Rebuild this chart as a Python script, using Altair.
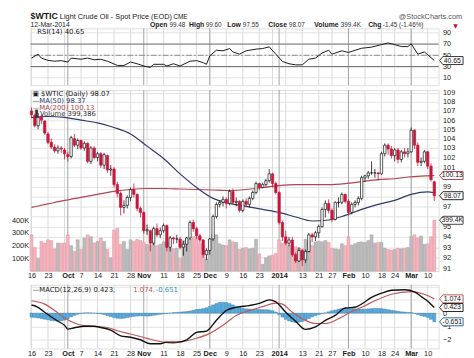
import json
import altair as alt
import pandas as pd

# ---------------- data ----------------
tick_idx = [0, 5, 11, 15, 20, 25, 30, 34, 40, 45, 50, 54, 59, 64, 69, 75, 82, 87, 91, 96, 101, 106, 110, 115, 120]
tick_lab = ["16", "23", "Oct", "7", "14", "21", "28", "Nov", "11", "18", "25", "Dec", "9", "16", "23",
            "2014", "13", "21", "27", "Feb", "10", "18", "24", "Mar", "10"]
week_idx = [0, 5, 10, 15, 20, 25, 30, 35, 40, 45, 50, 54, 59, 64, 69, 73, 77, 82, 87, 91, 96, 101, 106, 110, 115, 120]
month_idx = [11, 34, 54, 75, 96, 115]

opens = [107.0, 106.5, 105.4, 106.4, 105.9, 104.5, 103.6, 103.1, 102.7, 103.0, 102.8,
         102.3, 102.1, 104.0, 103.3, 103.8, 103.0, 103.5, 101.6, 103.0, 102.0, 102.4, 101.2, 102.2, 100.7,
         100.8, 99.2, 98.3, 96.9, 97.1, 97.9, 98.7, 98.2, 96.8, 96.4,
         94.6, 94.6, 93.4, 94.8, 94.2, 94.6, 95.1, 93.0, 93.9, 93.8, 93.8, 93.0, 93.3, 93.9, 95.4,
         94.8, 94.1, 93.7, 92.3, 92.7, 93.8, 96.0, 97.2, 97.4, 97.7, 97.3, 98.5, 97.4, 97.5,
         96.6, 97.5, 97.2, 97.8, 98.4, 99.3, 98.9, 99.2, 99.6, 100.3, 99.3, 98.4, 95.4,
         94.0, 93.4, 93.7, 92.3, 91.7, 92.7, 91.8, 92.6, 94.2, 94.0, 94.4, 95.0, 96.7, 97.3,
         96.6, 95.7, 97.4, 97.4, 98.2, 97.5, 96.4, 97.2, 97.4, 97.8, 99.9, 100.1, 100.4, 100.4, 100.4,
         100.3, 102.4, 103.3, 102.9, 102.2, 102.8, 101.8, 102.6, 102.4, 102.6, 104.9, 103.3, 101.5, 101.6,
         102.6, 101.1, 99.48]
highs = [107.4, 106.7, 106.8, 106.6, 106.0, 104.7, 104.0, 103.4, 103.3, 103.2, 103.0,
         102.6, 104.3, 104.5, 104.0, 103.9, 103.7, 103.6, 103.2, 103.2, 102.6, 102.6, 102.5, 102.3, 101.2,
         101.0, 99.5, 98.5, 97.6, 98.1, 98.9, 99.3, 98.3, 97.0, 96.5,
         95.2, 94.7, 95.0, 95.3, 94.9, 95.3, 95.2, 94.1, 94.0, 94.2, 94.0, 93.6, 94.0, 95.6, 95.7,
         95.0, 94.3, 93.8, 92.9, 93.9, 96.2, 97.4, 97.6, 98.0, 97.9, 98.7, 98.8, 97.9, 97.6,
         97.7, 97.8, 98.0, 98.6, 99.5, 99.4, 99.4, 99.8, 100.8, 100.4, 99.5, 98.5, 95.6,
         94.6, 94.0, 94.0, 92.5, 93.0, 92.8, 92.8, 94.4, 94.4, 94.6, 95.2, 96.9, 97.6, 97.7,
         96.8, 97.5, 97.9, 98.4, 98.3, 97.7, 97.4, 97.6, 98.0, 100.1, 100.2, 100.6, 101.6, 100.8, 100.5,
         102.6, 103.5, 103.5, 103.2, 103.0, 103.0, 102.8, 103.0, 103.0, 105.2, 105.0, 103.6, 102.0, 102.8,
         102.7, 101.4, 99.60]
lows = [106.2, 105.2, 105.0, 105.6, 104.4, 103.4, 102.9, 102.5, 102.4, 102.5, 101.8,
        101.6, 101.9, 103.1, 102.9, 102.8, 102.7, 101.4, 101.3, 101.8, 101.6, 100.9, 100.8, 100.4, 100.1,
        98.9, 97.9, 96.1, 96.3, 96.8, 97.5, 97.9, 96.5, 95.9, 94.3,
        94.2, 92.6, 93.2, 94.0, 93.9, 94.4, 92.6, 92.6, 93.3, 93.4, 92.8, 92.2, 92.6, 93.7, 94.5,
        93.8, 93.4, 92.0, 91.8, 92.3, 93.6, 95.8, 96.9, 97.0, 96.8, 97.1, 97.2, 97.0, 96.4,
        96.4, 96.9, 96.9, 97.6, 98.2, 98.6, 98.8, 99.0, 99.4, 98.9, 98.2, 95.2, 93.6,
        93.2, 93.1, 92.1, 91.5, 91.6, 91.2, 91.5, 92.5, 93.5, 93.6, 93.9, 94.9, 95.9, 96.3,
        95.4, 95.6, 96.9, 97.2, 97.3, 96.1, 96.2, 96.9, 97.1, 97.6, 99.5, 99.8, 100.2, 99.9, 99.6,
        100.2, 102.1, 102.3, 101.9, 101.6, 101.4, 101.5, 102.0, 102.0, 102.5, 102.9, 101.1, 101.1, 101.4,
        100.8, 99.5, 97.55]
closes = [106.6, 105.4, 106.3, 106.0, 104.6, 103.6, 103.1, 102.7, 103.0, 102.9, 102.4,
          102.1, 104.1, 103.3, 103.8, 103.0, 103.5, 101.6, 103.0, 102.0, 102.4, 101.2, 102.3, 100.7, 100.8,
          99.2, 98.3, 96.9, 97.1, 97.9, 98.7, 98.2, 96.8, 96.4, 94.6,
          94.7, 93.4, 94.8, 94.2, 94.6, 95.1, 93.0, 93.9, 93.8, 93.8, 93.0, 93.3, 93.9, 95.4, 94.8,
          94.1, 93.7, 92.3, 92.7, 93.8, 96.0, 97.2, 97.4, 97.7, 97.3, 98.5, 97.4, 97.5, 96.6,
          97.5, 97.2, 97.8, 98.4, 99.3, 98.9, 99.2, 99.6, 100.3, 99.3, 98.4, 95.4, 94.0,
          93.4, 93.7, 92.3, 91.7, 92.7, 91.8, 92.6, 94.2, 94.0, 94.4, 95.0, 96.7, 97.3, 96.6,
          95.7, 97.4, 97.4, 98.2, 97.5, 96.4, 97.2, 97.4, 97.8, 99.9, 100.1, 100.4, 100.4, 100.4, 100.3,
          102.4, 103.3, 102.9, 102.2, 102.8, 101.8, 102.6, 102.4, 102.6, 104.9, 103.3, 101.5, 101.6, 102.6,
          101.1, 99.7, 98.07]
vol_k = [285, 185, 100, 233, 220, 246, 240, 175, 220, 220, 220, 285,
         200, 156, 246, 170, 260, 285, 270, 220, 233, 260, 233, 170, 105, 323, 336, 210, 233, 170, 246, 233,
         250, 240, 225, 210, 205, 215, 200, 210, 230, 225, 180, 175, 178, 100, 240, 245, 250, 270, 265, 215, 200, 95,
         250, 290, 285, 215, 205, 200, 246,
         230, 225, 170, 180, 185, 175, 180, 250, 135, 54, 105, 120, 125, 140, 246, 220,
         225, 200, 210, 190, 180, 175, 250, 240, 200, 230, 235, 230, 240, 225,
         180, 175, 170, 215, 200, 270, 205, 215, 225, 230, 225, 240, 285, 220, 225,
         225, 180, 170, 165, 170, 180, 175, 180, 185, 270, 285, 260, 275, 210, 215, 270, 399.4]
hist = [-0.30, -0.32, -0.36, -0.40, -0.45,
        -0.50, -0.55, -0.58, -0.60, -0.58, -0.52,
        -0.40, -0.28, -0.16, -0.08, -0.02, 0.02,
        0.03, 0.02, 0.0, -0.02, -0.05, -0.10,
        -0.18, -0.26, -0.33, -0.38, -0.40, -0.38, -0.33, -0.28,
        -0.24, -0.22, -0.20, -0.20, -0.22, -0.20, -0.16, -0.12, -0.08, -0.05,
        -0.02, 0.01, 0.04, 0.06, 0.08, 0.10, 0.12, 0.16,
        0.22, 0.28, 0.30, 0.34, 0.40, 0.50, 0.62,
        0.72, 0.80, 0.82, 0.80, 0.72, 0.62, 0.52,
        0.42, 0.36, 0.32, 0.30, 0.29, 0.28, 0.27, 0.26, 0.26, 0.24,
        0.18, 0.08, -0.10, -0.30,
        -0.46, -0.58, -0.66, -0.70, -0.68, -0.62, -0.52,
        -0.40, -0.28, -0.18, -0.10, -0.04, 0.02, 0.10,
        0.18, 0.24, 0.30, 0.34, 0.36, 0.36, 0.34, 0.32, 0.30, 0.30,
        0.30, 0.32, 0.34, 0.36, 0.36, 0.34, 0.30, 0.26, 0.22, 0.18,
        0.14, 0.10, 0.08, 0.06, 0.04, -0.02,
        -0.10, -0.18, -0.24, -0.32, -0.46, -0.651]

ma_idx = [0, 5, 10, 15, 20, 25, 30, 35, 40, 45, 50, 55, 60, 65, 70, 75, 80, 85, 90, 95, 100, 105, 110, 115, 120, 122]
ma50 = [106.3, 106.4, 106.3, 106.0, 105.7, 105.2, 104.5, 103.2, 101.9, 100.3, 98.9, 97.8, 97.3, 97.0, 96.7,
        96.4, 95.95, 95.55, 95.65, 96.1, 96.7, 97.2, 97.6, 98.2, 98.45, 98.37]
ma200 = [96.9, 97.25, 97.6, 97.9, 98.2, 98.5, 98.7, 98.8, 98.8, 98.75, 98.7, 98.65, 98.6, 98.7, 98.9,
         99.1, 99.2, 99.2, 99.2, 99.3, 99.5, 99.7, 99.8, 100.0, 100.1, 100.13]

rsi_idx = [0, 2, 3, 5, 7, 9, 11, 12, 15, 17, 19, 21, 23, 26, 28, 30, 32, 34, 36, 37, 40, 41, 43, 45, 48, 50,
           52, 53, 54, 56, 58, 60, 61, 63, 65, 68, 70, 72, 74, 76, 78, 80, 82, 84, 86, 88, 90, 91, 94, 96,
           98, 100, 103, 106, 108, 110, 112, 114, 115, 117, 119, 121, 122]
rsi = [45, 52, 45, 41, 39.5, 40.5, 38, 45, 43, 45, 42, 43, 39.5, 32, 32, 38, 35, 31, 28.5, 34, 34, 31, 35, 31,
       39.5, 40.5, 37, 34, 49, 59, 58, 62, 56, 52, 58, 61, 62, 65, 52, 39, 35, 33, 33, 43, 45, 54, 59, 52, 58,
       55, 59, 62.5, 64.5, 69, 72, 69, 65.5, 65.5, 70.5, 52, 56, 46, 40.65]
rsi_bands = [70, 30]
rsi_mid = [50]

macd_idx = [0, 2, 4, 6, 8, 10, 11, 13, 16, 19, 21, 24, 27, 30, 33, 36, 39, 41, 44, 47, 50, 53, 56, 59, 62,
            66, 69, 72, 74, 77, 80, 83, 86, 89, 92, 95, 98, 100, 103, 106, 109, 113, 116, 118, 120, 122]
macd = [0.61, 0.44, 0.07, -0.29, -0.61, -0.91, -1.2, -1.1, -0.98, -0.98, -1.08, -1.27, -1.71, -1.81, -2.0,
        -2.3, -2.3, -2.18, -2.18, -2.0, -1.45, -1.35, -0.54, 0.2, 0.44, 0.57, 0.73, 1.0, 0.85, 0.07, -0.61,
        -1.22, -1.03, -0.54, -0.17, 0.39, 0.44, 0.69, 1.18, 1.5, 1.72, 1.76, 1.6, 1.25, 0.9, 0.423]
sig_idx = [0, 4, 7, 10, 14, 18, 23, 26, 30, 35, 40, 43, 46, 50, 54, 58, 62, 66, 70, 74, 76, 79, 83, 86, 89,
           93, 97, 100, 104, 109, 115, 119, 122]
signal = [0.93, 0.68, 0.2, -0.37, -0.83, -0.98, -1.08, -1.32, -1.57, -1.89, -2.18, -2.25, -2.13, -1.89, -1.52,
          -0.91, -0.17, 0.2, 0.49, 0.76, 0.68, 0.07, -0.54, -0.78, -0.78, -0.42, 0.12, 0.44, 0.93, 1.42, 1.62,
          1.42, 1.074]

last_close, last_ma50, last_ma200, last_vol = 98.07, 98.37, 100.13, 399.4
last_rsi, last_macd, last_signal, last_hist = 40.65, 0.423, 1.074, -0.651
price_ticks = list(range(91, 110))
price_hidden = [96, 98, 100]      # covered by the value tags in the reference

# ---------------- layout constants ----------------
FONT = "DejaVu Sans"
AFONT = "Liberation Sans"
HFONT = "Liberation Sans"
W = 417
H_RSI, H_PX, H_MACD = 58, 185, 65
RED = "#c8163a"
GRID = "#e2e2e2"

df = pd.DataFrame({"i": list(range(len(closes))), "open": opens, "high": highs, "low": lows,
                   "close": closes, "vol": vol_k, "hist": hist})
one = pd.DataFrame({"k": [0]})

xscale = alt.Scale(domain=[-0.3, 123.3], nice=False, zero=False, padding=0)
label_expr = "%s[indexof(%s, datum.value)]" % (json.dumps(tick_lab), json.dumps(tick_idx))
month_test = "indexof(%s, datum.value) >= 0" % json.dumps(month_idx)
x_axis = alt.Axis(values=tick_idx, labelExpr=label_expr, grid=False, ticks=False, tickSize=0, domain=False,
                  labelFont=AFONT, labelFontSize=7.5, labelColor="#1a1a1a", labelPadding=1,
                  labelOverlap=False, labelFlush=False, labelBound=False, title=None,
                  labelFontWeight={"condition": {"test": month_test, "value": "bold"}, "value": "normal"})


def X(axis=None):
    return alt.X("i:Q", scale=xscale, axis=axis, title=None)


def yaxis(values, orient="right", expr=None, fmt=None):
    kw = dict(orient=orient, values=values, grid=(orient == "right"), gridColor=GRID, ticks=False,
              tickSize=0, domain=False, labelFont=AFONT, labelFontSize=7.5, labelColor="#1a1a1a",
              labelPadding=4 if orient == "right" else 2, title=None, labelOverlap=False)
    if expr:
        kw["labelExpr"] = expr
    if fmt:
        kw["format"] = fmt
    return alt.Axis(**kw)


def text(t, x, y, size=7, weight="normal", color="#1a1a1a", font=FONT, align="left", baseline="middle"):
    return alt.Chart(one).mark_text(text=t, font=font, fontSize=size, fontWeight=weight, color=color,
                                    align=align, baseline=baseline).encode(x=alt.value(x), y=alt.value(y))


TAG = "M-1,0L-0.72,-0.34L1,-0.34L1,0.34L-0.72,0.34Z"


def tag(value, t, color, yscale, axis):
    d = alt.Chart(pd.DataFrame({"v": [value], "t": [t]}))
    yy = alt.Y("v:Q", scale=yscale, axis=axis, title=None)
    box = d.mark_point(shape=TAG, size=576, filled=True, fill="white", stroke=color, strokeWidth=1,
                       opacity=1).encode(x=alt.value(W + 13), y=yy)
    lab = d.mark_text(font=AFONT, fontSize=7, color="#111", align="center", baseline="middle").encode(
        x=alt.value(W + 14), y=yy, text="t:N")
    return [box, lab]


def grids(axis=None):
    gw = alt.Chart(pd.DataFrame({"i": week_idx})).mark_rule(color="#dadada", strokeWidth=1).encode(x=X(axis))
    gm = alt.Chart(pd.DataFrame({"i": month_idx})).mark_rule(color="#a3a3a3", strokeWidth=1).encode(x=X(axis))
    return [gw, gm]


# ---------------- RSI panel ----------------
rsi_scale = alt.Scale(domain=[-3.1, 97.8], nice=False, zero=False, padding=0)
rsi_ax = yaxis([10, 30, 50, 70, 90])
rsi_df = pd.DataFrame({"i": rsi_idx, "rsi": rsi})
rsi_bands_l = alt.Chart(pd.DataFrame({"v": rsi_bands})).mark_rule(color="#6e6e6e", strokeWidth=1).encode(
    y=alt.Y("v:Q", scale=rsi_scale, axis=rsi_ax, title=None))
rsi_mid_l = alt.Chart(pd.DataFrame({"v": rsi_mid})).mark_rule(color="#8a8a8a", strokeWidth=1,
                                                              strokeDash=[6, 2, 2, 2]).encode(
    y=alt.Y("v:Q", scale=rsi_scale, axis=rsi_ax, title=None))
rsi_line = alt.Chart(rsi_df).mark_line(color="#1a1a1a", strokeWidth=1).encode(
    x=X(), y=alt.Y("rsi:Q", scale=rsi_scale, axis=rsi_ax, title=None))

# header: two lines above the RSI panel (baselines B1, B2 relative to the panel top)
B1, B2 = -9.5, -1.5


def htext(t, x, base, size, weight="normal", color="#1a1a1a", align="left"):
    off = round(0.79 * size)
    return text(t, x, base - off, size=size, weight=weight, color=color, font=HFONT, align=align,
                baseline="top")


header = [
    htext("$WTIC", 0, B1, 9, weight="bold"),
    htext("Light Crude Oil - Spot Price (EOD)", 30, B1, 7.5),
    htext("CME", 146, B1, 6.5),
    htext("@StockCharts.com", 441, B1, 7.5, color="#555", align="right"),
    htext("12-Mar-2014", 0, B2, 7),
]
for lab, val, xl, xv in [("Open", "99.48", 122, 142), ("High", "99.60", 162, 179), ("Low", "97.55", 201, 217),
                         ("Close", "98.07", 243, 264), ("Volume", "399.4K", 290, 317),
                         ("Chg", "-1.45 (-1.46%)", 345, 360)]:
    header.append(htext(lab, xl, B2, 7, weight="bold"))
    header.append(htext(val, xv, B2, 6.5, color="#333"))
header.append(text("\u25bc", 432, B2 - 4, size=6, color=RED, baseline="top"))

rsi_chart = alt.layer(
    *grids(), rsi_bands_l, rsi_mid_l, rsi_line,
    text("RSI(14) 40.65", 7, 3.5, size=7),
    *tag(last_rsi, "40.65", "#333", rsi_scale, rsi_ax),
    *header,
).properties(width=W, height=H_RSI)

# ---------------- price + volume panel (flat layer, independent y) ----------------
pscale = alt.Scale(type="log", domain=[90.75, 109.33], nice=False, zero=False, padding=0)
vscale = alt.Scale(domain=[0, 1423], nice=False, zero=False, padding=0)
down = "datum.close < datum.open"
base = alt.Chart(df)

vol_bars = base.mark_bar(size=3.0, strokeWidth=0.5).encode(
    x=X(x_axis),
    y=alt.Y("vol:Q", scale=vscale, title=None,
            axis=yaxis([100, 200, 300, 400], orient="left", expr="datum.value + 'K'")),
    fill=alt.condition(down, alt.value("#f3b4bd"), alt.value("#bcbcbc")),
    stroke=alt.condition(down, alt.value("#e290a0"), alt.value("#a0a0a0")),
)
ma_df = pd.DataFrame({"i": ma_idx, "ma50": ma50, "ma200": ma200})
hide_expr = "indexof(%s, datum.value) >= 0 ? '' : datum.label" % json.dumps(price_hidden)
ma200_l = alt.Chart(ma_df).mark_line(color="#b0464f", strokeWidth=1.2, interpolate="monotone").encode(
    x=X(x_axis), y=alt.Y("ma200:Q", scale=pscale, title=None,
                         axis=yaxis(price_ticks, fmt="d", expr=hide_expr)))
ma50_l = alt.Chart(ma_df).mark_line(color="#2d3a6a", strokeWidth=1.2, interpolate="monotone").encode(
    x=X(x_axis), y=alt.Y("ma50:Q", scale=pscale, axis=None))
wicks = base.mark_rule(strokeWidth=0.8).encode(
    x=X(x_axis), y=alt.Y("low:Q", scale=pscale, axis=None), y2="high:Q",
    color=alt.condition(down, alt.value(RED), alt.value("#111")))
bodies = base.mark_bar(size=2.4, strokeWidth=0.7).encode(
    x=X(x_axis), y=alt.Y("open:Q", scale=pscale, axis=None), y2="close:Q",
    fill=alt.condition(down, alt.value(RED), alt.value("white")),
    stroke=alt.condition(down, alt.value(RED), alt.value("#111")))

price_chart = alt.layer(
    *grids(x_axis), vol_bars, ma200_l, ma50_l, wicks, bodies,
    *tag(last_vol, "399.4K", "#444", vscale, None),
    *tag(last_ma200, "100.13", "#b0464f", pscale, None),
    *tag(last_close, "98.07", "#222", pscale, None),
    text("\u25a3 $WTIC (Daily) 98.07", 2, 4, size=7),
    text("\u2014MA(50) 98.37", 2, 11, size=7, color="#2d3a6a"),
    text("\u2014MA(200) 100.13", 2, 18, size=7, color="#b0464f"),
    text("\u2590 Volume 399,386", 2, 25, size=7, color="#333"),
).resolve_scale(y="independent").properties(width=W, height=H_PX)

# ---------------- MACD panel ----------------
mscale = alt.Scale(domain=[-2.65, 2.13], nice=False, zero=False, padding=0)
m_ax = yaxis([-2, -1, 0, 1, 2], expr="datum.value <= 0 ? datum.label : ''")
hist_bars = base.mark_bar(size=3.0, fill="#55aee0", stroke="#2b6c9c", strokeWidth=0.4).encode(
    x=X(x_axis), y=alt.Y("hist:Q", scale=mscale, axis=m_ax, title=None), y2=alt.datum(0))
sig_l = alt.Chart(pd.DataFrame({"i": sig_idx, "v": signal})).mark_line(
    color="#c0575a", strokeWidth=1.2, interpolate="monotone").encode(
    x=X(x_axis), y=alt.Y("v:Q", scale=mscale, axis=m_ax, title=None))
macd_l = alt.Chart(pd.DataFrame({"i": macd_idx, "v": macd})).mark_line(
    color="#111", strokeWidth=1.4, interpolate="monotone").encode(
    x=X(x_axis), y=alt.Y("v:Q", scale=mscale, axis=m_ax, title=None))

macd_chart = alt.layer(
    *grids(x_axis), hist_bars, sig_l, macd_l,
    text("\u2014MACD(12,26,9) 0.423,", 2, 5, size=7),
    text("1.074,", 105, 5, size=7, color="#c0575a"),
    text("-0.651", 128, 5, size=7, color="#2b8cc4"),
    *tag(last_signal, "1.074", "#c0575a", mscale, m_ax),
    *tag(last_macd, "0.423", "#222", mscale, m_ax),
    *tag(last_hist, "-0.651", "#2b6c9c", mscale, m_ax),
).properties(width=W, height=H_MACD)

chart = alt.vconcat(rsi_chart, price_chart, macd_chart, spacing=2).properties(
    padding={"left": 2, "top": 0, "right": 0, "bottom": 0}
).configure_view(stroke="#8c8c8c", strokeWidth=1).configure(background="white")

chart.save("out.html", embed_options={"renderer": "svg", "actions": False})
